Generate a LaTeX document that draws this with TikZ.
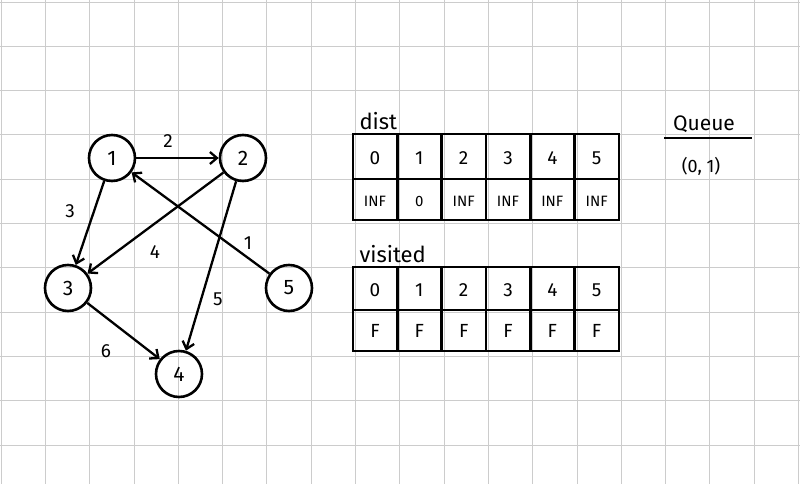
\documentclass[tikz,border=0pt]{standalone}
\usepackage{fontspec}
\setmainfont{Fira Sans}
\usetikzlibrary{arrows.meta}
\begin{document}
\begin{tikzpicture}[x=1pt,y=-1pt,
  vtx/.style={circle,draw,line width=2.6pt,minimum size=46pt,inner sep=0pt,font=\fontsize{21}{21}\selectfont},
  edge/.style={line width=2.3pt,-{Straight Barb[length=7pt,width=12pt]}},
  wl/.style={font=\fontsize{19}{19}\selectfont},
  cell/.style={font=\fontsize{19}{19}\selectfont},
  tbl/.style={line width=2.6pt}]
\fill[white] (0,0) rectangle (800,484);
\useasboundingbox (0,0) rectangle (800,484);
\foreach \i in {0,...,18} \draw[gray!40,line width=0.8pt] ({1+44.3*\i},0) -- ({1+44.3*\i},484);
\foreach \i in {0,...,10} \draw[gray!40,line width=0.8pt] (0,{2+44.3*\i}) -- (800,{2+44.3*\i});
\node[vtx] (n1) at (112,158) {1};
\node[vtx] (n2) at (243,158) {2};
\node[vtx] (n3) at (68,288) {3};
\node[vtx] (n4) at (179,374) {4};
\node[vtx] (n5) at (289,288) {5};
\draw[edge] (n1) -- (n2);
\draw[edge] (n1) -- (n3);
\draw[edge] (n2) -- (n3);
\draw[edge] (n2) -- (n4);
\draw[edge] (n5) -- (n1);
\draw[edge] (n3) -- (n4);
\node[wl] (l12) at (168,141) {2};
\node[wl] (l13) at (70,211) {3};
\node[wl] (l23) at (155,252) {4};
\node[wl] (l51) at (248,243) {1};
\node[wl] (l24) at (218,299) {5};
\node[wl] (l34) at (106,351) {6};
\node[font=\fontsize{22}{22}\selectfont,anchor=base west] (dl) at (356,129) {dist};
\node[font=\fontsize{22}{22}\selectfont,anchor=base west] (vl) at (356,262) {visited};
\node[font=\fontsize{21}{21}\selectfont] (q) at (704,124) {Queue};
\coordinate (qa) at (664,138); \coordinate (qb) at (752,138);
\draw[line width=2.6pt] (qa) -- (qb);
\node[font=\fontsize{18}{18}\selectfont] (qv) at (701,166) {(0, 1)};
\foreach \yt/\ym/\yb in {134/179/220, 267/310/351}{
  \draw[tbl] (353,\yt) rectangle (619,\yb);
  \draw[tbl] (353,\ym) -- (619,\ym);
  \foreach \k in {1,...,5} \draw[tbl] ({353+44.33*\k},\yt) -- ({353+44.33*\k},\yb);
}
\foreach \v [count=\k from 0] in {0,1,2,3,4,5}{
  \node[cell] (dh\k) at ({375+44.33*\k},158) {\v};
  \node[cell] (vh\k) at ({375+44.33*\k},290) {\v};
  \node[cell] (vv\k) at ({375+44.33*\k},331) {F};
}
\foreach \v [count=\k from 0] in {INF,0,INF,INF,INF,INF}
  \node[font=\fontsize{15}{15}\selectfont] (dv\k) at ({375+44.33*\k},201) {\v};
\end{tikzpicture}
\end{document}
